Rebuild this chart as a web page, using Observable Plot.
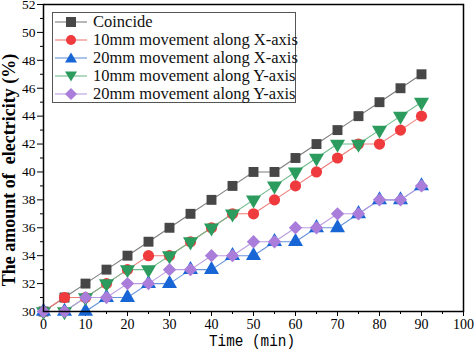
<!DOCTYPE html>
<html><head><meta charset="utf-8">
<script src="https://cdn.jsdelivr.net/npm/d3@7"></script>
<script src="https://cdn.jsdelivr.net/npm/@observablehq/plot@0.6"></script>
<style>
body{margin:0;background:#fff}
#wrap{position:relative;width:474px;height:355px;overflow:hidden}
#legend{position:absolute;left:52px;top:12px;width:242px;height:89px;border:1px solid #555;background:#fff;font-family:"Liberation Serif",serif;font-size:16.5px;color:#111}
.row{height:18px;line-height:18px;display:flex;align-items:center;white-space:nowrap}
.row svg{flex:none}
</style></head><body><div id="wrap"></div>
<script>
const times = [0,5,10,15,20,25,30,35,40,45,50,55,60,65,70,75,80,85,90];
const seriesNames = ["Coincide","10mm movement along X-axis","20mm movement along X-axis","10mm movement along Y-axis","20mm movement along Y-axis"];
const coincide = [30,31,32,33,34,35,36,37,38,39,40,40,41,42,43,44,45,46,47];
const x10 = [30,31,31,32,33,34,34,35,36,37,37,38,39,40,41,42,42,43,44];
const x20 = [30,30,30,31,31,32,32,33,33,34,34,35,35,36,36,37,38,38,39];
const y10 = [30,30,31,32,33,33,34,35,36,37,38,39,40,41,42,42,43,44,45];
const y20 = [30,30,31,31,32,32,33,33,34,34,35,35,36,36,37,37,38,38,39];
const xTicks = [0,10,20,30,40,50,60,70,80,90,100];
const xMinor = [5,15,25,35,45,55,65,75,85,95];
const yTicks = [30,32,34,36,38,40,42,44,46,48,50,52];
const yMinor = [31,33,35,37,39,41,43,45,47,49,51];
const xTitle = "Time (min)";
const yTitle = "The amount of  electricity (%)";

const styles = [
  {symbol:"square", fill:"#474747", line:"#7d7d7d", rotate:0, path:"M-5,-5H5V5H-5Z"},
  {symbol:"circle", fill:"#ef3b3d", line:"#ef7a7a", rotate:0, path:"M5,0A5,5 0 1,1 -5,0A5,5 0 1,1 5,0Z"},
  {symbol:"triangle", fill:"#1866d6", line:"#6794dc", rotate:0, path:"M0,-5.5L6,4.5H-6Z"},
  {symbol:"triangle", fill:"#2c9c5e", line:"#6fbb8c", rotate:180, path:"M0,5.5L6,-4.5H-6Z"},
  {symbol:"diamond2", fill:"#a97dd9", line:"#bb9de2", rotate:0, path:"M0,-6L6,0L0,6L-6,0Z"}
];
const values = [coincide, x10, x20, y10, y20];
const series = seriesNames.map((name,i)=>({name, values: values[i], ...styles[i]}));

const marks = [
  Plot.axisX({ticks: xMinor, tickSize: 3, tickFormat: () => "", label: null, color:"#000"}),
  Plot.axisX({ticks: xTicks, tickSize: 5, tickPadding: 3, label: null, color:"#000", fontSize: 14}),
  Plot.axisY({ticks: yMinor, tickSize: 3, tickFormat: () => "", label: null, color:"#000"}),
  Plot.axisY({ticks: yTicks, tickSize: 6, tickPadding: 2, label: null, color:"#000", fontSize: 13.5}),
];
for (const s of series) {
  const d = times.map((t,j)=>({t, v: s.values[j]}));
  marks.push(Plot.line(d, {x:"t", y:"v", stroke: s.line, strokeWidth: 1.1}));
}
for (const s of series) {
  const d = times.map((t,j)=>({t, v: s.values[j]}));
  marks.push(Plot.dot(d, {x:"t", y:"v", symbol: s.symbol, fill: s.fill, r: s.symbol === "diamond2" ? 6 : 5.6, rotate: s.rotate, stroke: "none"}));
}
marks.push(Plot.frame({stroke:"#000", strokeWidth:1.5}));

const chart = Plot.plot({
  width: 474, height: 355,
  marginLeft: 43, marginRight: 11, marginTop: 4, marginBottom: 44,
  x: {domain: [0,100]},
  y: {domain: [30,52]},
  style: {fontFamily: "Liberation Serif, serif", fontSize: "13.5px", background: "white", overflow: "visible", color:"#000"},
  marks
});
const wrap = document.getElementById("wrap");
wrap.appendChild(chart);

const svg = d3.select(chart);
svg.append("text")
  .attr("x", 252).attr("y", 346)
  .attr("text-anchor", "middle")
  .attr("font-family", "Liberation Mono, monospace")
  .attr("font-size", 17)
  .attr("textLength", 86).attr("lengthAdjust", "spacingAndGlyphs")
  .attr("fill", "#000")
  .text(xTitle);
svg.append("text")
  .attr("transform", "translate(15,170) rotate(-90)")
  .attr("text-anchor", "middle")
  .attr("font-family", "Liberation Serif, serif")
  .attr("font-weight", "bold")
  .attr("font-size", 18)
  .attr("fill", "#000")
  .style("white-space", "pre")
  .text(yTitle);

const legend = document.createElement("div");
legend.id = "legend";
for (const s of series) {
  const row = document.createElement("div");
  row.className = "row";
  row.innerHTML = `<svg width="40" height="18"><line x1="2" x2="34" y1="9" y2="9" stroke="${s.line}" stroke-width="1.1"/><path transform="translate(18,9)" d="${s.path}" fill="${s.fill}"/></svg><span>${s.name}</span>`;
  legend.appendChild(row);
}
wrap.appendChild(legend);
</script>
</body></html>
